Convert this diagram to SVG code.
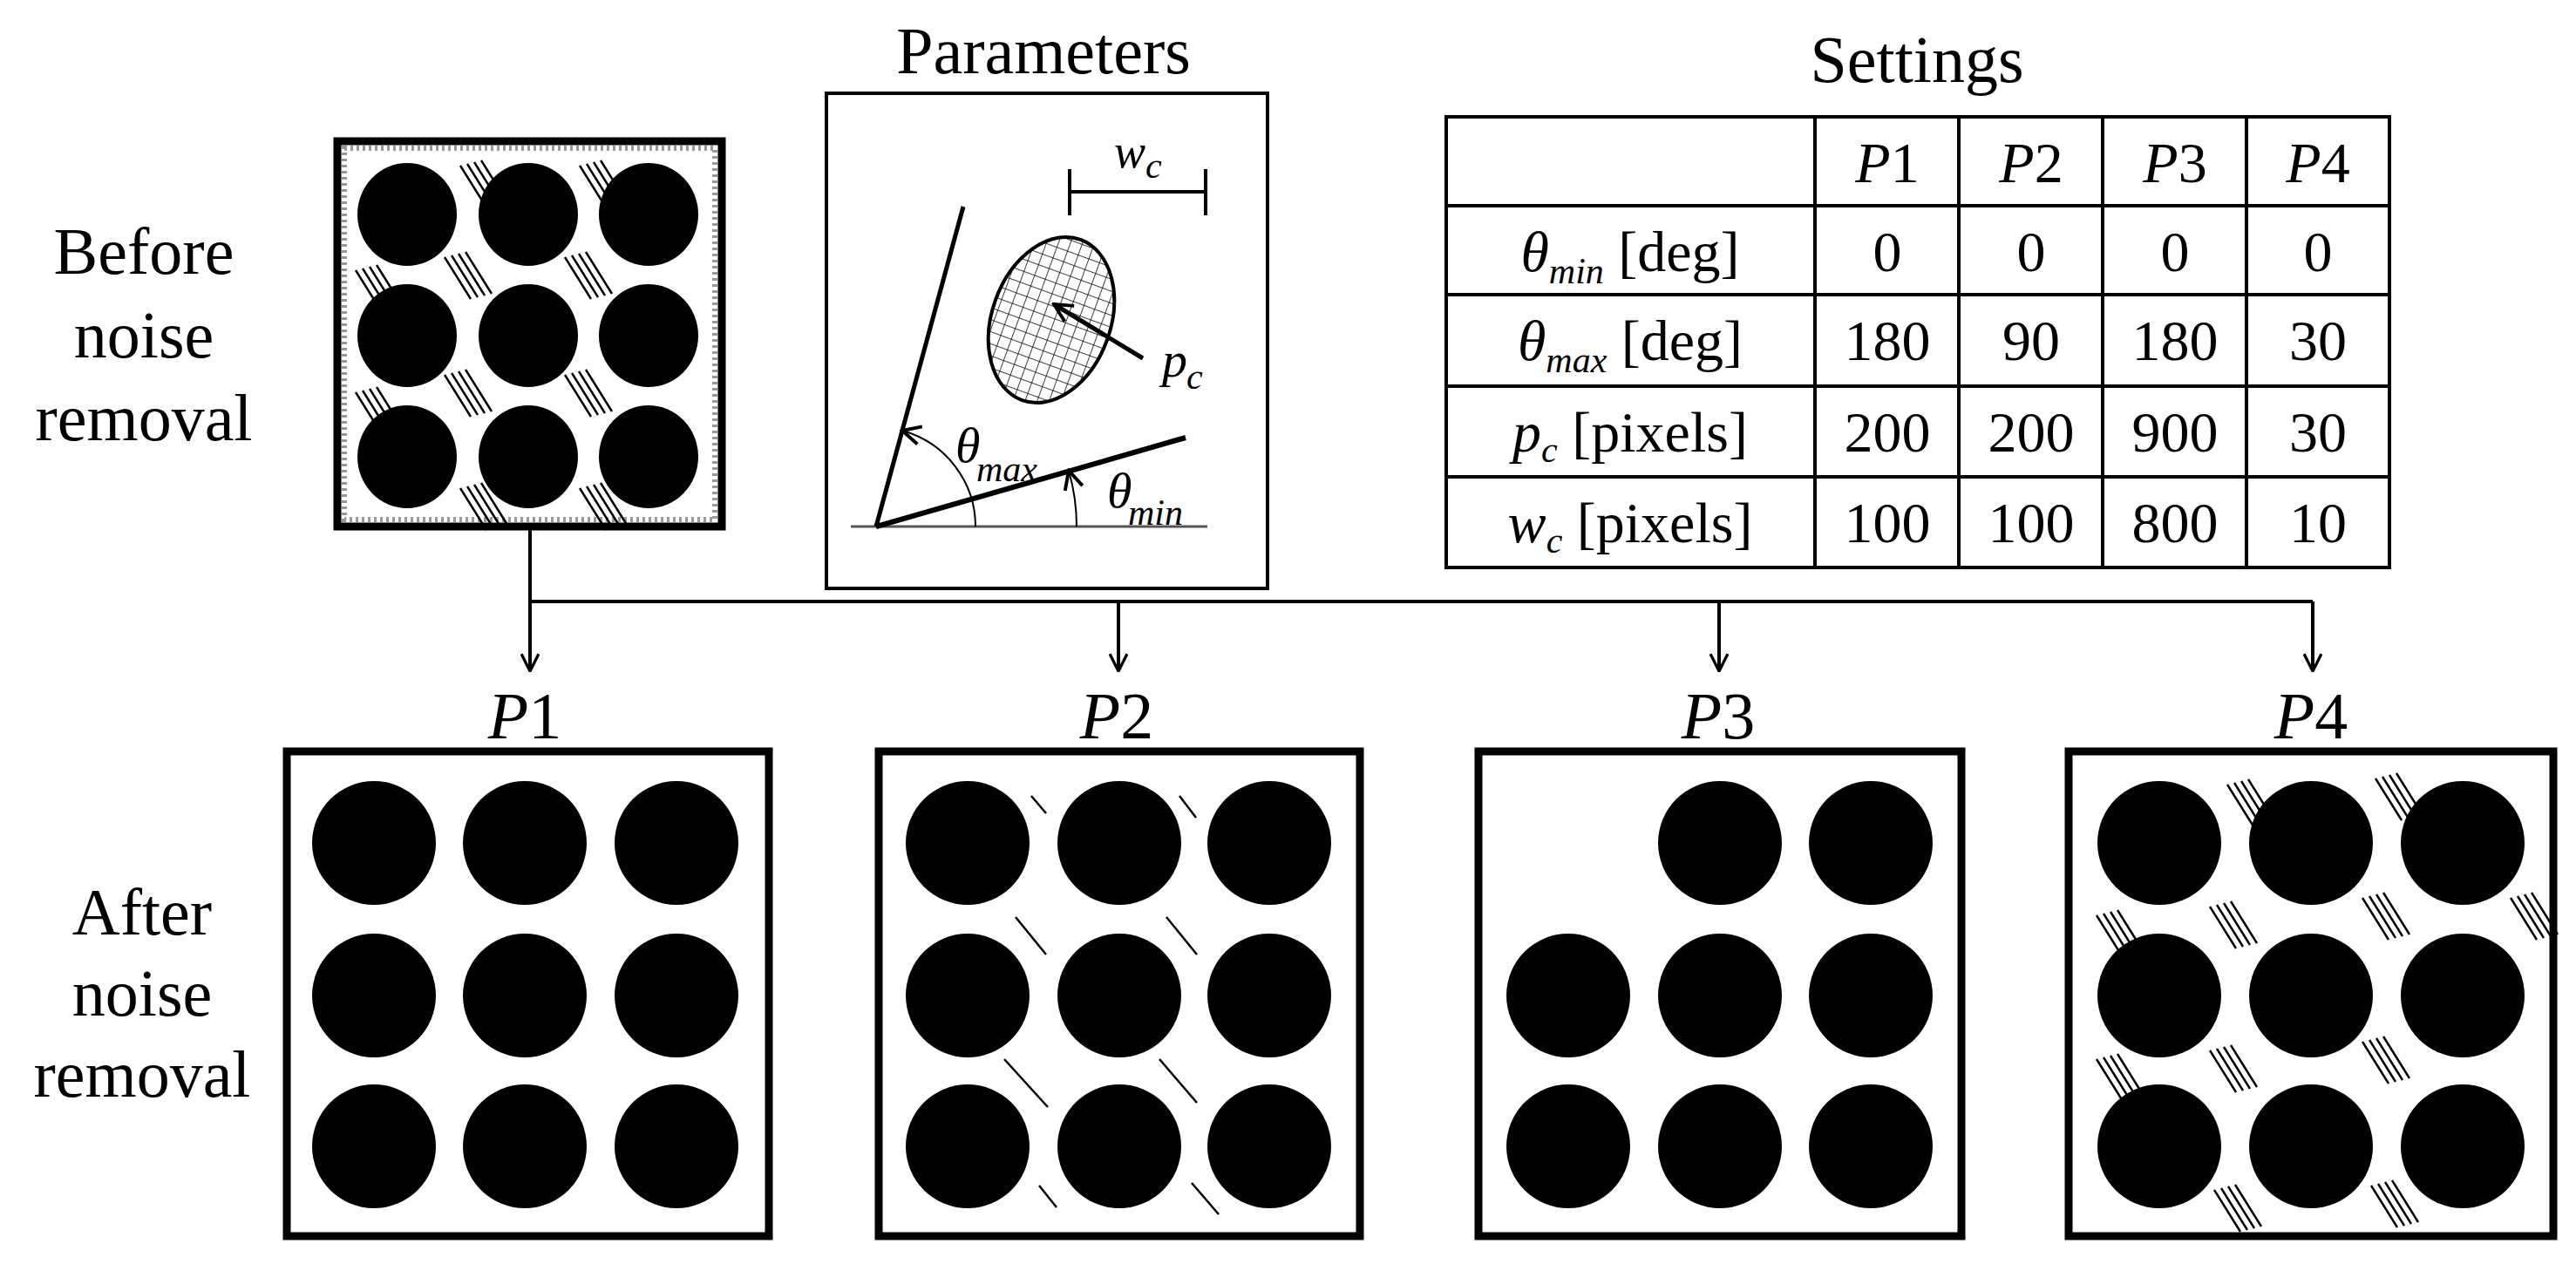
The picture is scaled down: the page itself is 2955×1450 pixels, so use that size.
<svg xmlns="http://www.w3.org/2000/svg" width="2955" height="1450" viewBox="0 0 2955 1450" font-family="'Liberation Serif','DejaVu Serif',serif">
<defs>
<style>
text{font-family:"Liberation Serif","DejaVu Serif","Times New Roman",serif;fill:#000}
.lbl{font-size:76px;text-anchor:middle}
.tb{font-size:66px;text-anchor:middle}
.i{font-style:italic}
.sub{font-style:italic;font-size:42px}
.frame{fill:#fff;stroke:#000;stroke-width:9}
.dot{fill:#000}
.hatch{stroke:#000;stroke-width:2.5}
.ln{stroke:#000;stroke-width:4;fill:none}
</style>
<marker id="ah" viewBox="0 0 20 20" refX="19" refY="10" markerWidth="22" markerHeight="22" markerUnits="userSpaceOnUse" orient="auto">
<path d="M1 1 L19 10 L1 19" fill="none" stroke="#000" stroke-width="3"/>
</marker>
<marker id="ah2" viewBox="0 0 20 20" refX="18" refY="10" markerWidth="26" markerHeight="26" markerUnits="userSpaceOnUse" orient="auto">
<path d="M2 2 L18 10 L2 18" fill="none" stroke="#000" stroke-width="3"/>
</marker>
<pattern id="grid" width="13" height="13" patternUnits="userSpaceOnUse">
<path d="M0 0 H13 M0 0 V13" stroke="#000" stroke-width="1.5"/>
</pattern>
<g id="diag"><line x1="0" y1="0" x2="30" y2="48" class="hatch"/><line x1="8" y1="-2" x2="38" y2="46" class="hatch"/><line x1="16" y1="-4" x2="46" y2="44" class="hatch"/><line x1="24" y1="-6" x2="54" y2="42" class="hatch"/></g>
</defs>

<g id="before-label">
<text class="lbl" x="165" y="314">Before</text>
<text class="lbl" x="165" y="410">noise</text>
<text class="lbl" x="165" y="505">removal</text>
</g>

<g id="before-image">
<rect class="frame" x="387" y="162" width="441" height="442" stroke="#222"/>
<rect x="395" y="170" width="425" height="426" fill="none" stroke="#999" stroke-width="6" stroke-dasharray="3 4"/>
<g class="dot">
<ellipse cx="467" cy="246" rx="57" ry="59"/><ellipse cx="606" cy="246" rx="57" ry="59"/><ellipse cx="744" cy="246" rx="57" ry="59"/>
<ellipse cx="467" cy="385" rx="57" ry="59"/><ellipse cx="606" cy="385" rx="57" ry="59"/><ellipse cx="744" cy="385" rx="57" ry="59"/>
<ellipse cx="467" cy="524" rx="57" ry="59"/><ellipse cx="606" cy="524" rx="57" ry="59"/><ellipse cx="744" cy="524" rx="57" ry="59"/>
</g>
<use href="#diag" x="528" y="190"/><use href="#diag" x="665" y="190"/>
<use href="#diag" x="510" y="295"/><use href="#diag" x="648" y="295"/><use href="#diag" x="408" y="310"/>
<use href="#diag" x="510" y="430"/><use href="#diag" x="648" y="430"/><use href="#diag" x="408" y="450"/>
<use href="#diag" x="528" y="560"/><use href="#diag" x="665" y="560"/>
</g>

<g id="parameters">
<text class="lbl" x="1197" y="84">Parameters</text>
<rect x="948" y="107" width="506" height="568" fill="#fff" stroke="#000" stroke-width="4"/>
<path class="ln" d="M1227 220 H1383 M1227 194 V247 M1383 194 V247"/>
<text class="i" x="1278" y="192" font-size="54">w</text><text class="sub" x="1314" y="204" font-size="38">c</text>
<line x1="976" y1="604" x2="1385" y2="604" stroke="#555" stroke-width="3"/>
<line x1="1005" y1="604" x2="1105" y2="237" stroke="#000" stroke-width="5"/>
<line x1="1005" y1="604" x2="1360" y2="502" stroke="#000" stroke-width="6"/>
<ellipse cx="1206" cy="367" rx="68" ry="98" transform="rotate(20 1206 367)" fill="url(#grid)" stroke="#000" stroke-width="4"/>
<line x1="1311" y1="411" x2="1209" y2="349" stroke="#000" stroke-width="5" marker-end="url(#ah2)"/>
<text class="i" x="1333" y="432" font-size="58">p</text><text class="sub" x="1361" y="446" font-size="38">c</text>
<path d="M1119 604 A114 114 0 0 0 1035 494" fill="none" stroke="#000" stroke-width="2" marker-end="url(#ah2)"/>
<path d="M1235 604 A230 230 0 0 0 1226 540" fill="none" stroke="#000" stroke-width="2" marker-end="url(#ah2)"/>
<text class="i" x="1096" y="530" font-size="58">θ</text><text class="sub" x="1120" y="552" font-size="38">max</text>
<text class="i" x="1270" y="582" font-size="58">θ</text><text class="sub" x="1294" y="602" font-size="38">min</text>
</g>

<g id="settings">
<text class="lbl" x="2199" y="94">Settings</text>
<g stroke="#000" stroke-width="4" fill="none">
<rect x="1659" y="134" width="1082" height="517"/>
<path d="M2082 134 V651 M2247 134 V651 M2412 134 V651 M2577 134 V651 M1659 236 H2741 M1659 338 H2741 M1659 443 H2741 M1659 547 H2741"/>
</g>
<g class="tb">
<text x="2165" y="209"><tspan class="i">P</tspan>1</text><text x="2330" y="209"><tspan class="i">P</tspan>2</text><text x="2495" y="209"><tspan class="i">P</tspan>3</text><text x="2659" y="209"><tspan class="i">P</tspan>4</text>
<text x="1870" y="311"><tspan class="i">θ</tspan><tspan class="sub" dy="14">min</tspan><tspan dy="-14"> [deg]</tspan></text>
<text x="2165" y="311">0</text><text x="2330" y="311">0</text><text x="2495" y="311">0</text><text x="2659" y="311">0</text>
<text x="1870" y="413"><tspan class="i">θ</tspan><tspan class="sub" dy="14">max</tspan><tspan dy="-14"> [deg]</tspan></text>
<text x="2165" y="413">180</text><text x="2330" y="413">90</text><text x="2495" y="413">180</text><text x="2659" y="413">30</text>
<text x="1870" y="518"><tspan class="i">p</tspan><tspan class="sub" dy="12">c</tspan><tspan dy="-12"> [pixels]</tspan></text>
<text x="2165" y="518">200</text><text x="2330" y="518">200</text><text x="2495" y="518">900</text><text x="2659" y="518">30</text>
<text x="1870" y="622"><tspan class="i">w</tspan><tspan class="sub" dy="12">c</tspan><tspan dy="-12"> [pixels]</tspan></text>
<text x="2165" y="622">100</text><text x="2330" y="622">100</text><text x="2495" y="622">800</text><text x="2659" y="622">10</text>
</g>
</g>

<g id="connectors" stroke="#000" stroke-width="4" fill="none">
<path d="M608 604 V770" marker-end="url(#ah)"/>
<path d="M608 690 H2653"/>
<path d="M1283 690 V770" marker-end="url(#ah)"/>
<path d="M1972 690 V770" marker-end="url(#ah)"/>
<path d="M2653 690 V770" marker-end="url(#ah)"/>
</g>

<g id="after-label">
<text class="lbl" x="163" y="1072">After</text>
<text class="lbl" x="163" y="1165">noise</text>
<text class="lbl" x="163" y="1258">removal</text>
</g>

<g id="p1">
<text class="lbl" x="602" y="847"><tspan class="i">P</tspan>1</text>
<rect class="frame" x="329" y="862" width="553" height="556"/>
<g class="dot">
<circle cx="429" cy="967" r="71"/><circle cx="602" cy="967" r="71"/><circle cx="776" cy="967" r="71"/>
<circle cx="429" cy="1142" r="71"/><circle cx="602" cy="1142" r="71"/><circle cx="776" cy="1142" r="71"/>
<circle cx="429" cy="1315" r="71"/><circle cx="602" cy="1315" r="71"/><circle cx="776" cy="1315" r="71"/>
</g>
</g>

<g id="p2">
<text class="lbl" x="1281" y="847"><tspan class="i">P</tspan>2</text>
<rect class="frame" x="1008" y="862" width="552" height="556"/>
<g class="dot">
<circle cx="1110" cy="967" r="71"/><circle cx="1284" cy="967" r="71"/><circle cx="1456" cy="967" r="71"/>
<circle cx="1110" cy="1142" r="71"/><circle cx="1284" cy="1142" r="71"/><circle cx="1456" cy="1142" r="71"/>
<circle cx="1110" cy="1315" r="71"/><circle cx="1284" cy="1315" r="71"/><circle cx="1456" cy="1315" r="71"/>
</g>
<g class="hatch">
<line x1="1183" y1="913" x2="1200" y2="933"/><line x1="1353" y1="913" x2="1372" y2="938"/>
<line x1="1165" y1="1052" x2="1200" y2="1095"/><line x1="1338" y1="1052" x2="1373" y2="1095"/>
<line x1="1152" y1="1215" x2="1202" y2="1270"/><line x1="1330" y1="1215" x2="1373" y2="1265"/>
<line x1="1192" y1="1360" x2="1212" y2="1385"/><line x1="1367" y1="1357" x2="1398" y2="1393"/>
</g>
</g>

<g id="p3">
<text class="lbl" x="1971" y="847"><tspan class="i">P</tspan>3</text>
<rect class="frame" x="1696" y="862" width="554" height="556"/>
<g class="dot">
<circle cx="1973" cy="967" r="71"/><circle cx="2146" cy="967" r="71"/>
<circle cx="1799" cy="1142" r="71"/><circle cx="1973" cy="1142" r="71"/><circle cx="2146" cy="1142" r="71"/>
<circle cx="1799" cy="1315" r="71"/><circle cx="1973" cy="1315" r="71"/><circle cx="2146" cy="1315" r="71"/>
</g>
</g>

<g id="p4">
<text class="lbl" x="2651" y="847"><tspan class="i">P</tspan>4</text>
<rect class="frame" x="2373" y="862" width="556" height="556"/>
<g class="dot">
<circle cx="2477" cy="967" r="71"/><circle cx="2651" cy="967" r="71"/><circle cx="2825" cy="967" r="71"/>
<circle cx="2477" cy="1142" r="71"/><circle cx="2651" cy="1142" r="71"/><circle cx="2825" cy="1142" r="71"/>
<circle cx="2477" cy="1315" r="71"/><circle cx="2651" cy="1315" r="71"/><circle cx="2825" cy="1315" r="71"/>
</g>
<use href="#diag" x="2555" y="900"/><use href="#diag" x="2725" y="893"/>
<use href="#diag" x="2535" y="1040"/><use href="#diag" x="2710" y="1030"/><use href="#diag" x="2405" y="1050"/><use href="#diag" x="2880" y="1030"/>
<use href="#diag" x="2535" y="1205"/><use href="#diag" x="2710" y="1195"/><use href="#diag" x="2405" y="1215"/>
<use href="#diag" x="2540" y="1365"/><use href="#diag" x="2720" y="1360"/>
</g>
</svg>
